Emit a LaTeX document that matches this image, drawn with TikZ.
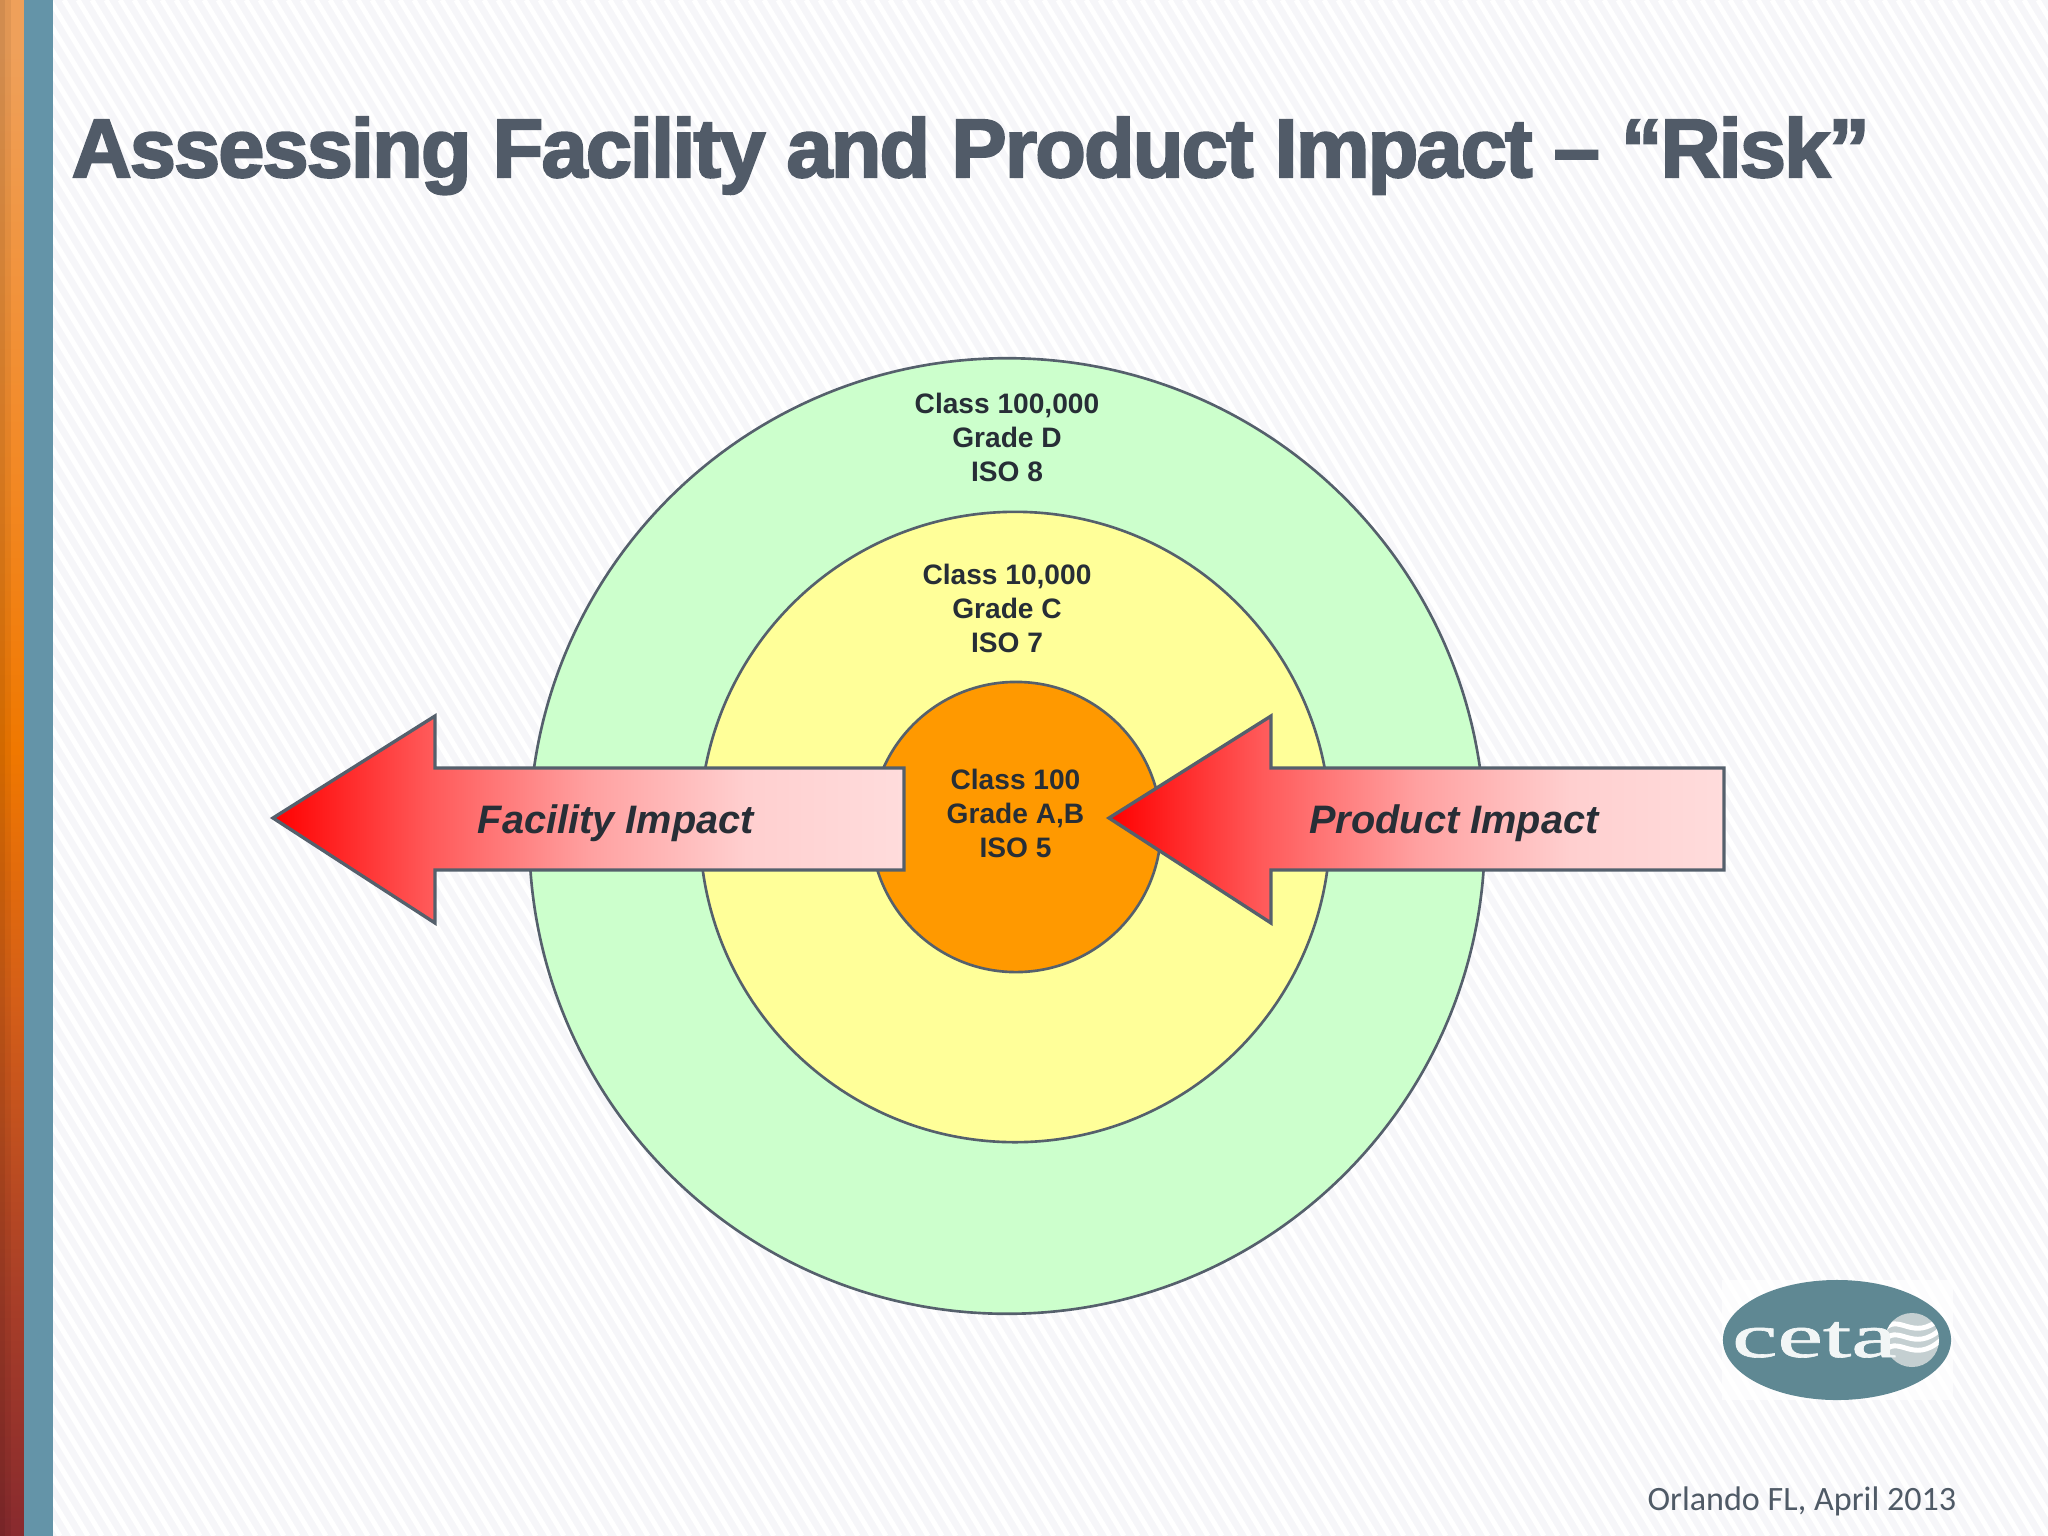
\documentclass[tikz,border=0pt]{standalone}
\usepackage{fontspec}
\setmainfont{Liberation Sans}
\newfontfamily\titlefont[FakeBold=2.5,LetterSpace=-2.3]{Liberation Sans Bold}
\newfontfamily\footfont{Carlito}
\newfontfamily\logofont[FakeBold=1]{Liberation Serif}
\usetikzlibrary{positioning,shapes.geometric}

\definecolor{bgbase}{HTML}{F6F6F9}
\definecolor{slateline}{HTML}{55606C}
\definecolor{titlegrey}{HTML}{515B68}
\definecolor{labelgrey}{HTML}{272E36}
\definecolor{footgrey}{HTML}{4F5A66}
\definecolor{barblue}{HTML}{6494A8}
\definecolor{logoteal}{HTML}{5F8893}
\definecolor{swirlgrey}{HTML}{C4CFD1}
\definecolor{zonegreen}{HTML}{CCFFCC}
\definecolor{zoneyellow}{HTML}{FFFF99}
\definecolor{zoneorange}{HTML}{FF9900}
\definecolor{arrowone}{HTML}{FF5A5A}
\definecolor{arrowtwo}{HTML}{FFA0A0}
\definecolor{arrowthree}{HTML}{FFCFCF}
\definecolor{arrowend}{HTML}{FFDCDC}
\definecolor{barone}{HTML}{882A2E}
\definecolor{bartwo}{HTML}{A83E28}
\definecolor{barthree}{HTML}{D45E18}
\definecolor{barfour}{HTML}{F07800}
\definecolor{barfive}{HTML}{F28A28}
\definecolor{barsix}{HTML}{EFA05A}

\pgfdeclareverticalshading{barshade}{100bp}{
color(0bp)=(barone);
color(25bp)=(barone);
color(32.7bp)=(bartwo);
color(42.4bp)=(barthree);
color(50.6bp)=(barfour);
color(60.4bp)=(barfive);
color(73.4bp)=(barsix);
color(100bp)=(barsix)}

\pgfdeclarehorizontalshading{impactshade}{100bp}{
color(0bp)=(red);
color(25bp)=(red);
color(37.5bp)=(arrowone);
color(50bp)=(arrowtwo);
color(62.5bp)=(arrowthree);
color(75bp)=(arrowend);
color(100bp)=(arrowend)}

\tikzset{
zone/.style={circle, draw=slateline, line width=0.75pt, inner sep=0pt, outer sep=0pt},
zonelabel/.style={font=\fontsize{8}{9.67}\selectfont\bfseries, text=labelgrey, align=center, inner sep=0pt},
impact/.style={draw=slateline, line width=0.95pt, shading=impactshade},
impactlabel/.style={font=\fontsize{11.3}{13}\selectfont\bfseries\itshape, text=labelgrey, inner sep=0pt}
}

\begin{document}
\begin{tikzpicture}[x=0.01cm,y=-0.01cm]
\useasboundingbox (0,0) rectangle (2048,1536);

% backdrop
\fill[bgbase] (0,0) rectangle (2048,1536);
\begin{scope}
\clip (0,0) rectangle (2048,1536);
\foreach \s in {-1000,-986,...,2048}
  \draw[white, line width=1.4pt] (\s,0) -- ({\s+920},1536);
\end{scope}
\shade[shading=barshade] (0,0) rectangle (24,1536);
\fill[black, opacity=.12] (0,0) rectangle (5,1536);
\fill[black, opacity=.06] (5,0) rectangle (11,1536);
\fill[barblue] (24,0) rectangle (53,1536);

\node[font=\titlefont\fontsize{23.6}{28}\selectfont, text=titlegrey, anchor=base west, inner sep=0pt] (title) at (71,177) {Assessing Facility and Product Impact – “Risk”};

% zones
\node[zone, fill=zonegreen, minimum size=9.55cm] (zoneD) at (1007,836) {};
\node[zone, fill=zoneyellow, minimum size=6.3cm] (zoneC) at (1015,827) {};
\node[zone, fill=zoneorange, minimum size=2.9cm] (zoneA) at (1016,827) {};

\node[zonelabel] (labelD) at (1007,437.5) {Class 100,000\\Grade D\\ISO 8};
\node[zonelabel] (labelC) at (1007,608) {Class 10,000\\Grade C\\ISO 7};
\node[zonelabel] (labelA) at (1015.5,813) {Class 100\\Grade A,B\\ISO 5};

% arrows
\shadedraw[impact] (273,818) -- (435,716) -- (435,768) -- (904,768) -- (904,870) -- (435,870) -- (435,923) -- cycle;
\shadedraw[impact] (1109,818) -- (1271,716) -- (1271,768) -- (1724,768) -- (1724,870) -- (1271,870) -- (1271,923) -- cycle;
\node[impactlabel] (facility) at (616,823.5) {Facility Impact};
\node[impactlabel] (product) at (1454,823.5) {Product Impact};

% logo
\fill[white, opacity=.75] (1722,1280) rectangle (1953,1400);
\node[ellipse, fill=logoteal, minimum width=2.28cm, minimum height=1.2cm, inner sep=0pt] (logo) at (1837,1340) {};
\node[circle, fill=swirlgrey, minimum size=0.54cm, inner sep=0pt] (swirl) at (1912,1340) {};
\begin{scope}
\clip (1912,1340) circle [radius=27];
\foreach \w in {-13,-2,9}
  \draw[white, line width=1.4pt] (1882,{1345+\w}) .. controls (1898,{1322+\w}) and (1912,{1358+\w}) .. (1942,{1330+\w});
\end{scope}
\node[font=\logofont\fontsize{17.6}{20}\selectfont, text=white!92!logoteal, anchor=base west, inner sep=0pt, transform shape, xscale=1.65] (ceta) at (1731,1357) {ceta};

\node[font=\footfont\fontsize{9.7}{11}\selectfont, text=footgrey, anchor=base east, inner sep=0pt] (venue) at (1957,1510) {Orlando FL, April 2013};
\end{tikzpicture}
\end{document}
